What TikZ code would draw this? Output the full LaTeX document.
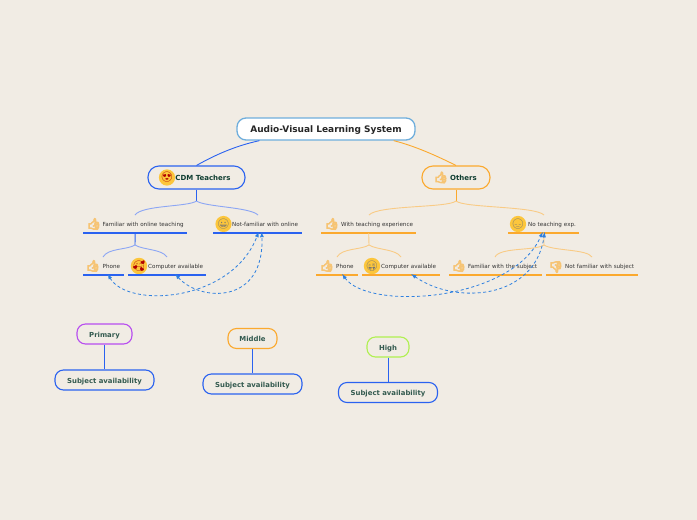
\documentclass[tikz,border=0pt]{standalone}
\usepackage{fontspec}
\setmainfont{DejaVu Sans}
\newfontfamily\emojifont{Noto Emoji}
\newfontfamily\thumbfont[FakeBold=9]{Noto Emoji}
\definecolor{paper}{HTML}{F1ECE4}
\definecolor{mapblue}{HTML}{2A62F0}
\definecolor{softblue}{HTML}{8CA6F4}
\definecolor{maporange}{HTML}{FBA92E}
\definecolor{softorange}{HTML}{F9CB85}
\definecolor{skyblue}{HTML}{6FAEDC}
\definecolor{linkblue}{HTML}{2E80E0}
\definecolor{topicgreen}{HTML}{0F3D30}
\definecolor{leafgrey}{HTML}{333333}
\definecolor{facegold}{HTML}{FCC63C}
\definecolor{thumbgold}{HTML}{F6C474}
\definecolor{mappurple}{HTML}{B84DF0}
\definecolor{maplime}{HTML}{B0F050}
\tikzset{
  root/.style={draw=skyblue,line width=1.3pt,fill=white,rounded corners=9pt,minimum width=178pt,minimum height=22pt,inner sep=0pt,text height=6.2pt,text depth=0pt,font=\fontsize{9}{10}\selectfont\bfseries,text=black!85},
  topic/.style={draw=#1,line width=1.1pt,rounded corners=11pt,minimum height=23pt,inner sep=0pt,text height=6pt,text depth=0pt,font=\fontsize{7}{8}\selectfont\bfseries,text=topicgreen},
  pill/.style={draw=#1,line width=1.1pt,rounded corners=8.5pt,minimum height=20pt,inner sep=0pt,text height=6.5pt,text depth=0pt,font=\fontsize{6.9}{8}\selectfont\bfseries,text=topicgreen!85},
  leaf/.style={text width=#1,minimum height=18pt,inner sep=0pt,anchor=south west,align=left,text height=5.5pt,text depth=0pt,font=\fontsize{5.6}{6}\selectfont,text=leafgrey},
  face/.style={circle,fill=facegold,inner sep=0pt,minimum size=10pt,font=\emojifont\fontsize{10}{10}\selectfont,text=black!55},
  thumb/.style={inner sep=0pt,font=\thumbfont\fontsize{11}{11}\selectfont,text=thumbgold},
  link/.style={dash pattern=on 3pt off 2.5pt,linkblue,line width=.8pt,latex-latex}
}
\begin{document}
\begin{tikzpicture}[x=1pt,y=-1pt]
    \useasboundingbox [fill=paper] (0,0) rectangle (697,520);

    \node [root] (sys) at (326,129) {Audio-Visual Learning System};
    \node [topic=mapblue,minimum width=97pt] (cdm) at (196.5,177.5) {\hspace*{13pt}CDM Teachers};
    \node [topic=maporange,minimum width=68pt] (oth) at (456,177.5) {\hspace*{15pt}Others};
    \node [face,text=red!70!black] (cdmi) at (167,177.5) {😍};
    \node [thumb] (othi) at (441,177.5) {👍};

    \node [leaf=104pt] (fam) at (83,233) {\hspace*{19.5pt}Familiar with online teaching};
    \node [leaf=89pt] (nof) at (213,233) {\hspace*{19pt}Not-familiar with online};
    \node [leaf=41pt] (pho) at (83,275) {\hspace*{19.5pt}Phone};
    \node [leaf=78pt] (com) at (128,275) {\hspace*{20pt}Computer available};
    \node [thumb] (fami) at (94,224) {👍};
    \node [face] (nofi) at (223.5,224) {😀};
    \node [thumb] (phoi) at (93,266) {👍};
    \node [face,text=red!70!black] (comi) at (139,266) {🥰};

    \node [leaf=95pt] (wit) at (321,233) {\hspace*{20pt}With teaching experience};
    \node [leaf=71pt] (not) at (508,233) {\hspace*{20pt}No teaching exp.};
    \node [leaf=42pt] (pho2) at (316,275) {\hspace*{20pt}Phone};
    \node [leaf=78pt] (com2) at (362,275) {\hspace*{19pt}Computer available};
    \node [leaf=93pt] (fas) at (449,275) {\hspace*{19pt}Familiar with the subject};
    \node [leaf=92pt] (nos) at (546,275) {\hspace*{19pt}Not familiar with subject};
    \node [thumb] (witi) at (332,224) {👍};
    \node [face] (noti) at (518,224) {😞};
    \node [thumb] (pho2i) at (327,266) {👍};
    \node [face] (com2i) at (372,266) {😜};
    \node [thumb] (fasi) at (459,266) {👍};
    \node [thumb] (nosi) at (556,267) {👎};

    \foreach \n in {fam,nof,pho,com}
      \draw [mapblue,line width=1.3pt] (\n.south west) -- (\n.south east);
    \foreach \n in {wit,not,pho2,com2,fas,nos}
      \draw [maporange,line width=1.3pt] (\n.south west) -- (\n.south east);

    \draw [mapblue,line width=.9pt] (sys.south west) ++(23,0) .. controls (235,146) and (215,155) .. (cdm.north);
    \draw [maporange,line width=.9pt] (sys.south east) ++(-22,0) .. controls (415,146) and (437,156) .. (oth.north);

    % branches under the two topics
    \coordinate (cdmf) at (196.5,201);
    \coordinate (famf) at (135,245);
    \coordinate (othf) at (456,201);
    \coordinate (witf) at (369,245);
    \coordinate (notf) at (544,245);
    \draw [mapblue,line width=.9pt] (cdm.south) -- (cdmf);
    \draw [softblue,line width=.9pt] (cdmf) .. controls (188,207) and (142,205) .. (135,215);
    \draw [softblue,line width=.9pt] (cdmf) .. controls (205,207) and (250,207) .. (258,215);
    \draw [mapblue,line width=.9pt] (fam.south) -- (famf);
    \draw [softblue,line width=.9pt] (famf) .. controls (127,250) and (108,248) .. (103,257);
    \draw [softblue,line width=.9pt] (famf) .. controls (143,250) and (162,249) .. (167,257);
    \draw [maporange,line width=.9pt] (oth.south) -- (othf);
    \draw [softorange,line width=.9pt] (othf) .. controls (448,208) and (378,205) .. (369,215);
    \draw [softorange,line width=.9pt] (othf) .. controls (464,208) and (535,206) .. (544,215);
    \draw [softorange,line width=.9pt] (wit.south) -- (witf);
    \draw [softorange,line width=.9pt] (witf) .. controls (361,250) and (342,248) .. (337,257);
    \draw [softorange,line width=.9pt] (witf) .. controls (377,250) and (396,249) .. (401,257);
    \draw [softorange,line width=.9pt] (not.south) -- (notf);
    \draw [softorange,line width=.9pt] (notf) .. controls (535,251) and (500,247) .. (495,257);
    \draw [softorange,line width=.9pt] (notf) .. controls (553,251) and (587,249) .. (592,257);

    % dashed relations
    \draw [link] ([xshift=4pt,yshift=1pt]pho.south) .. controls (128,309) and (232,302) .. ([xshift=1pt,yshift=1pt]nof.south);
    \draw [link] ([xshift=8pt,yshift=1pt]com.south) .. controls (200,302) and (265,305) .. ([xshift=4pt,yshift=1pt]nof.south);
    \draw [link] ([xshift=5pt,yshift=1pt]pho2.south) .. controls (368,311) and (512,302) .. ([xshift=-1pt,yshift=1pt]not.south);
    \draw [link] ([xshift=10pt,yshift=1pt]com2.south) .. controls (455,305) and (535,300) .. ([xshift=1pt,yshift=1pt]not.south);

    % levels
    \node [pill=mappurple,minimum width=55pt] (pri) at (104.5,334) {Primary};
    \node [pill=maporange,minimum width=49pt] (mid) at (252.5,338.5) {Middle};
    \node [pill=maplime,minimum width=42pt] (hig) at (388,347) {High};
    \node [pill=mapblue,minimum width=99pt] (sub) at (104.5,380) {Subject availability};
    \node [pill=mapblue,minimum width=99pt] (sub2) at (252.5,384) {Subject availability};
    \node [pill=mapblue,minimum width=99pt] (sub3) at (388,392.5) {Subject availability};
    \draw [mapblue,line width=.9pt] (pri) -- (sub);
    \draw [mapblue,line width=.9pt] (mid) -- (sub2);
    \draw [mapblue,line width=.9pt] (hig) -- (sub3);
  \end{tikzpicture}
\end{document}
